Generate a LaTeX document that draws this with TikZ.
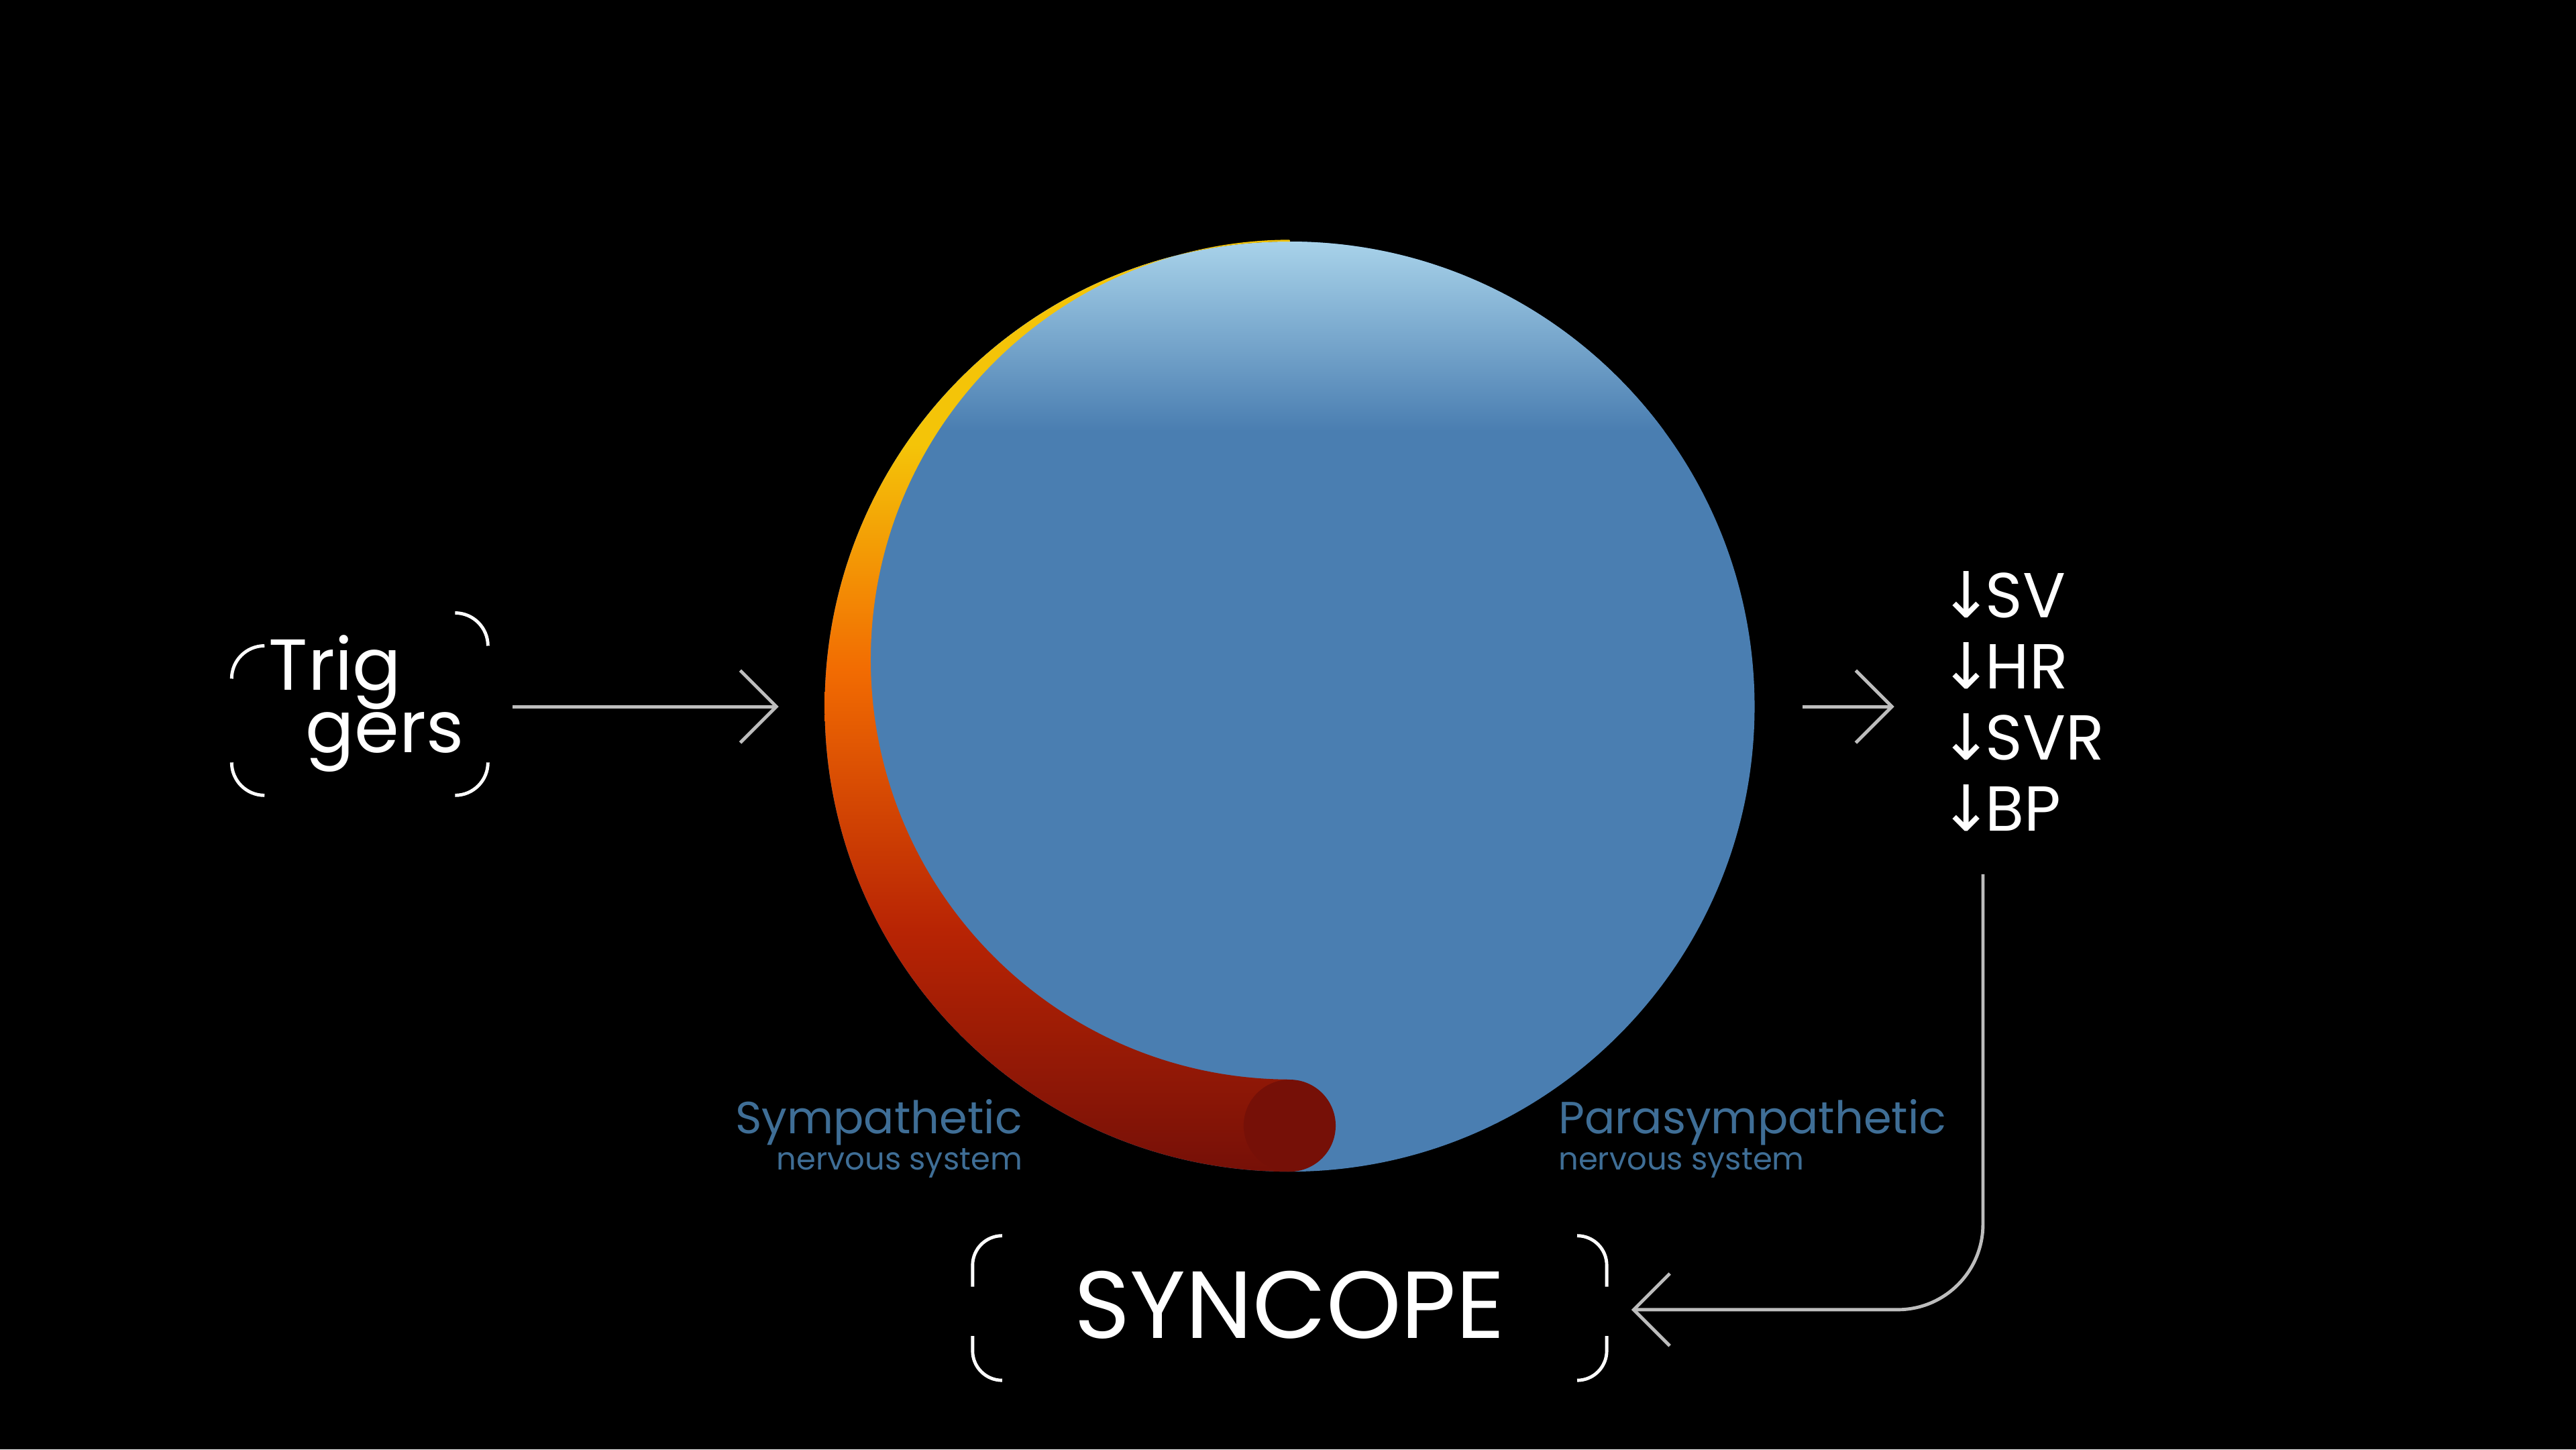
\documentclass[tikz,border=0pt]{standalone}
\usepackage{fontspec}
\setmainfont{Poppins}
\newfontfamily\symfont{DejaVu Sans}
\usetikzlibrary{arrows.meta,positioning}
\definecolor{discblue}{HTML}{4A7EB1}
\definecolor{skyblue}{HTML}{A9D3EA}
\definecolor{sunyellow}{HTML}{F4C408}
\definecolor{fireorange}{HTML}{F26C02}
\definecolor{hotred}{HTML}{B82404}
\definecolor{bloodred}{HTML}{761007}
\definecolor{labelblue}{HTML}{3F6E96}
\definecolor{linegray}{HTML}{BDBDBD}
\pgfdeclareverticalshading{bandshade}{100bp}{color(0bp)=(bloodred); color(25bp)=(bloodred); color(38bp)=(hotred); color(52bp)=(fireorange); color(64bp)=(sunyellow); color(100bp)=(sunyellow)}
\tikzset{
  bracket/.style={line width=0.02cm, white},
  flow/.style={line width=0.02cm, linegray, -{Straight Barb[length=0.22cm, width=0.44cm]}},
  label/.style={text=white, inner sep=0pt},
  ns/.style={text=labelblue, inner sep=0pt, anchor=base east, align=right}
}
\newcommand{\dn}{{\symfont\char"2193}\hspace{-0.12em}}
\begin{document}
\begin{tikzpicture}
  \useasboundingbox (0,0) rectangle (15.68,8.82);
  \fill[black] (0,0) rectangle (15.68,8.82);

  % Drawing the disc
  \coordinate (disc) at (7.85,4.52);
  \coordinate (inner) at (7.855,4.806);
  \fill[discblue] (disc) circle (2.83);
  \begin{scope}
    \clip (disc) circle (2.83);
    \shade[top color=skyblue, bottom color=discblue] (5,7.36) rectangle (11,6.2);
  \end{scope}

  % Drawing the sympathetic band
  \begin{scope}
    \clip (4.9,1.5) rectangle (7.85,7.5);
    \shade[even odd rule, shading=bandshade]
      (disc) circle (2.83) (inner) circle (2.555);
  \end{scope}
  \fill[bloodred] (7.85,1.97) circle (0.28);

  % Marking the triggers
  \node[label, anchor=base west, font=\fontsize{12.5}{12.5}\selectfont] (trig) at (1.63,4.62) {Trig};
  \node[label, anchor=base east, font=\fontsize{12.5}{12.5}\selectfont] (gers) at (2.83,4.24) {gers};
  \draw[bracket] (1.41,4.69) arc (180:90:0.2);
  \draw[bracket] (2.77,5.09) arc (90:0:0.2);
  \draw[bracket] (1.41,4.18) arc (180:270:0.2);
  \draw[bracket] (2.77,3.98) arc (270:360:0.2);
  \coordinate (trigout) at (3.12,4.52);
  \coordinate (discin) at (4.74,4.52);
  \draw[flow] (trigout) -- (discin);

  % Marking the effects
  \node[label, anchor=north west, align=left, font=\fontsize{11}{12.3}\selectfont] (effects) at (11.80,5.35)
    {\dn SV\\ \dn HR\\ \dn SVR\\ \dn BP};
  \coordinate (discout) at (10.97,4.52);
  \coordinate (effin) at (11.53,4.52);
  \draw[flow] (discout) -- (effin);

  % Marking the nervous systems
  \node[ns, font=\fontsize{7.8}{7.8}\selectfont] (symp) at (6.23,1.92) {Sympathetic};
  \node[ns, font=\fontsize{5.4}{5.4}\selectfont] at (6.23,1.70) {nervous system};
  \node[ns, anchor=base west, align=left, font=\fontsize{7.8}{7.8}\selectfont] (para) at (9.48,1.92) {Parasympathetic};
  \node[ns, anchor=base west, align=left, font=\fontsize{5.4}{5.4}\selectfont] at (9.48,1.70) {nervous system};

  % Marking syncope
  \node[label, font=\fontsize{16.5}{16.5}\selectfont] (syncope) at (7.85,0.88) {SYNCOPE};
  \draw[bracket] (6.1,1.3) arc (90:180:0.18) -- (5.92,0.99);
  \draw[bracket] (9.6,1.3) arc (90:0:0.18) -- (9.78,0.99);
  \draw[bracket] (6.1,0.42) arc (270:180:0.18) -- (5.92,0.69);
  \draw[bracket] (9.6,0.42) arc (270:360:0.18) -- (9.78,0.69);

  % Drawing the feedback
  \coordinate (effout) at (12.07,3.50);
  \coordinate (synin) at (9.93,0.85);
  \draw[flow, rounded corners=0.52cm] (effout) -- (12.07,0.85) -- (synin);
\end{tikzpicture}
\end{document}
